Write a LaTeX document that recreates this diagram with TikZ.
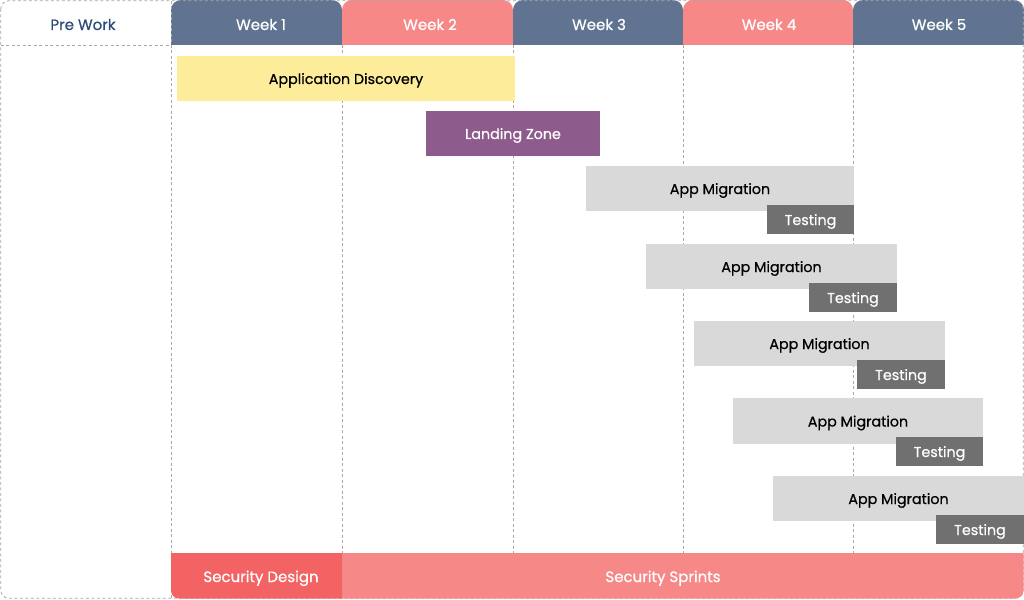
\documentclass[tikz,border=0pt]{standalone}
\usepackage{fontspec}
\setmainfont{Poppins}[FakeBold=0.6]
\definecolor{hblue}{HTML}{607391}
\definecolor{hpink}{HTML}{F78888}
\definecolor{hred}{HTML}{F46363}
\definecolor{byellow}{HTML}{FDEC9A}
\definecolor{bpurple}{HTML}{8E5C8C}
\definecolor{blight}{HTML}{D9D9D9}
\definecolor{bdark}{HTML}{707070}
\definecolor{dashgray}{HTML}{A8A8A8}
\definecolor{prework}{HTML}{2E4A78}
\begin{document}
\begin{tikzpicture}[x=1pt,y=-1pt,
  grid/.style={draw=dashgray, line width=0.8pt, dash pattern=on 3pt off 2.5pt},
  lbl/.style={font=\fontsize{15}{17}\selectfont, inner sep=0pt, text height=10pt, text depth=0pt},
  bar/.style={anchor=north west, inner sep=0pt, outer sep=0pt, draw=none, font=\fontsize{14.3}{16}\selectfont, text height=11pt, text depth=0pt},
  migbar/.style={bar, fill=blight, text=black},
  testbar/.style={bar, fill=bdark, text=white, minimum height=29pt}
]
\useasboundingbox (0,0) rectangle (1024,599);
% headers
\fill[hblue] (171,45) [rounded corners=10pt] -- (171,0) -- (342,0) [sharp corners] -- (342,45) -- cycle;
\fill[hpink] (342,45) [rounded corners=10pt] -- (342,0) -- (513,0) [sharp corners] -- (513,45) -- cycle;
\fill[hblue] (513,45) [rounded corners=10pt] -- (513,0) -- (683,0) [sharp corners] -- (683,45) -- cycle;
\fill[hpink] (683,45) [rounded corners=10pt] -- (683,0) -- (853,0) [sharp corners] -- (853,45) -- cycle;
\fill[hblue] (853,45) [rounded corners=10pt] -- (853,0) -- (1024,0) [sharp corners] -- (1024,45) -- cycle;
\node[lbl, text=prework] (pw) at (83,25) {Pre Work};
\node[lbl, text=white] (w1) at (261,25) {Week 1};
\node[lbl, text=white] (w2) at (430,25) {Week 2};
\node[lbl, text=white] (w3) at (599,25) {Week 3};
\node[lbl, text=white] (w4) at (769,25) {Week 4};
\node[lbl, text=white] (w5) at (939,25) {Week 5};
% grid
\draw[grid, rounded corners=8pt] (0.8,0.8) rectangle (1023.2,598.2);
\draw[grid] (0.8,45) -- (171,45);
\draw[grid] (171,0.8) -- (171,598.2);
\foreach \x in {342,513,683,853} \draw[grid] (\x,45) -- (\x,553);
% bottom bars
\fill[hpink] (342,553) -- (1023.5,553) [rounded corners=8pt] -- (1023.5,598.5) [sharp corners] -- (342,598.5) -- cycle;
\fill[hred] (171,553) -- (342,553) -- (342,598.5) [rounded corners=8pt] -- (171,598.5) [sharp corners] -- cycle;
\node[lbl, text=white] (sd) at (261,577) {Security Design};
\node[lbl, text=white] (ss) at (663,577) {Security Sprints};
% bars
\node[bar, fill=byellow, text=black, minimum width=338pt, minimum height=45pt] (ad) at (177,56) {Application Discovery};
\node[bar, fill=bpurple, text=white, minimum width=174pt, minimum height=45pt] (lz) at (426,111) {Landing Zone};
\node[migbar, minimum width=268pt, minimum height=45pt] (am1) at (586,166) {App Migration};
\node[testbar, minimum width=87pt] (t1) at (767,205) {Testing};
\node[migbar, minimum width=251pt, minimum height=45pt] (am2) at (646,244) {App Migration};
\node[testbar, minimum width=88pt] (t2) at (809,283) {Testing};
\node[migbar, minimum width=251pt, minimum height=45pt] (am3) at (694,321) {App Migration};
\node[testbar, minimum width=88pt] (t3) at (857,360) {Testing};
\node[migbar, minimum width=250pt, minimum height=46pt] (am4) at (733,398) {App Migration};
\node[testbar, minimum width=87pt] (t4) at (896,437) {Testing};
\node[migbar, minimum width=251pt, minimum height=45pt] (am5) at (773,476) {App Migration};
\node[testbar, minimum width=88pt] (t5) at (936,515) {Testing};
\end{tikzpicture}
\end{document}
